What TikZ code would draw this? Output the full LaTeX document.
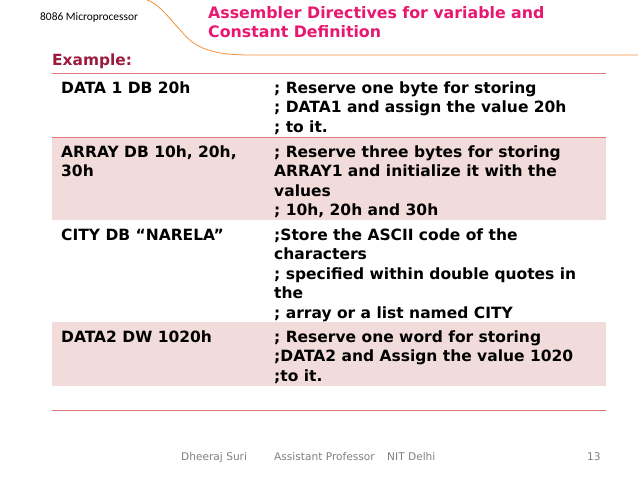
\documentclass[tikz,border=0pt]{standalone}
\usepackage{fontspec}
\setmainfont{DejaVu Sans}
\newfontfamily\carlitofont{Carlito}
\definecolor{rowpink}{HTML}{F2DCDB}
\definecolor{rule}{HTML}{E07A7A}
\definecolor{ttl}{HTML}{E8176F}
\definecolor{ex}{HTML}{9B1B3E}
\definecolor{orng}{HTML}{F0903A}
\begin{document}
\begin{tikzpicture}[x=1pt,y=-1pt,
  cell/.style={anchor=north west,inner sep=0pt,align=left,font=\bfseries\fontsize{15.5}{19.5}\selectfont},
  foot/.style={text=gray,font=\fontsize{10.6}{12}\selectfont,anchor=base west,inner sep=0pt}]
\useasboundingbox (0,0) rectangle (638,478);
\draw[orng,line width=0.8pt] (147,0) .. controls (160,4) and (172,22) .. (182,32) .. controls (195,48) and (212,55) .. (250,55) -- (638,55);
\node[anchor=base west,inner sep=0pt,font=\carlitofont\fontsize{11.4}{13}\selectfont] (hdr) at (40,21) {8086 Microprocessor};
\node[anchor=north west,inner sep=0pt,align=left,text=ttl,font=\bfseries\fontsize{15.8}{19.5}\selectfont] (title) at (208,6) {Assembler Directives for variable and\\Constant Definition};
\node[anchor=base west,inner sep=0pt,text=ex,font=\bfseries\fontsize{15.4}{16}\selectfont] (ex) at (52,66) {Example:};
\fill[rowpink] (52,138) rectangle (606,220);
\fill[rowpink] (52,322) rectangle (606,386);
\draw[rule,line width=0.9pt] (52,73) -- (606,73);
\draw[rule,line width=0.9pt] (52,137.5) -- (606,137.5);
\draw[rule,line width=0.9pt] (52,410) -- (606,410);
\node[cell] (a1) at (61,81.5) {DATA 1 DB 20h};
\node[cell] (b1) at (274,81.5) {; Reserve one byte for storing\\; DATA1 and assign the value 20h\\; to it.};
\node[cell] (a2) at (61,145.5) {ARRAY DB 10h, 20h,\\30h};
\node[cell] (b2) at (274,145.5) {; Reserve three bytes for storing\\ARRAY1 and initialize it with the\\values\\; 10h, 20h and 30h};
\node[cell] (a3) at (61,228.5) {CITY DB “NARELA”};
\node[cell] (b3) at (274,228.5) {;Store the ASCII code of the\\characters\\; specified within double quotes in\\the\\; array or a list named CITY};
\node[cell] (a4) at (61,330.5) {DATA2 DW 1020h};
\node[cell] (b4) at (274,330.5) {; Reserve one word for storing\\;DATA2 and Assign the value 1020\\;to it.};
\node[foot] (f1) at (181,461) {Dheeraj Suri};
\node[foot] (f2) at (274,461) {Assistant Professor};
\node[foot] (f3) at (387,461) {NIT Delhi};
\node[foot] (f4) at (587,461) {13};
\end{tikzpicture}
\end{document}
